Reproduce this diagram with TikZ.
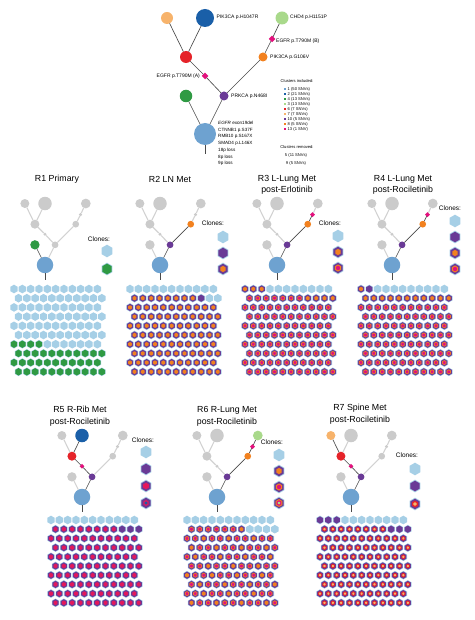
\documentclass[tikz,border=0pt]{standalone}
\usepackage{fontspec}
\setmainfont{Liberation Sans}
\definecolor{lb}{HTML}{A6CFE6}
\definecolor{bone}{HTML}{6EA2D0}
\definecolor{dbl}{HTML}{1A5FA8}
\definecolor{gfour}{HTML}{2F9A43}
\definecolor{gthree}{HTML}{A9D98B}
\definecolor{rsix}{HTML}{E52329}
\definecolor{lor}{HTML}{F7B36B}
\definecolor{pur}{HTML}{6A3A96}
\definecolor{ora}{HTML}{F2811F}
\definecolor{mag}{HTML}{E3117D}
\definecolor{gry}{HTML}{CBCBCB}
\definecolor{lgc}{HTML}{D2D2D2}
\definecolor{dkc}{HTML}{4A4A4A}
\tikzset{
 tn/.style={circle,inner sep=0pt,outer sep=0pt,draw=none},
 gn/.style={tn,fill=gry},
 sq/.style={tn,rectangle,rotate=45,fill=mag},
 c-o7/.style={tn,fill=lor}, c-db/.style={tn,fill=dbl}, c-g3/.style={tn,fill=gthree},
 c-pB/.style={sq}, c-o8/.style={tn,fill=ora}, c-red/.style={tn,fill=rsix},
 c-pA/.style={sq}, c-pu/.style={tn,fill=pur}, c-g4/.style={tn,fill=gfour}, c-b1/.style={tn,fill=bone},
 dk/.style={draw=dkc,line width=0.65pt},
 lg/.style={draw=lgc,line width=1.1pt},
 ttl/.style={font=\fontsize{8.8}{11}\selectfont,align=center,inner sep=0pt},
 ttlb/.style={font=\fontsize{8.8}{12}\selectfont,align=center,inner sep=0pt},
 lbl/.style={font=\fontsize{5}{6.7}\selectfont,inner sep=0pt},
 mut/.style={font=\fontsize{4.6}{6.7}\selectfont,inner sep=0pt,align=left},
 leg/.style={font=\fontsize{4.1}{5}\selectfont,inner sep=0pt},
 clo/.style={font=\fontsize{6.5}{7}\selectfont,inner sep=0pt},
}
% phylogenetic tree: prefix, x, y, position scale, size scale, highlight styles
\newcommand{\phyl}[6]{%
\begin{scope}[shift={(#2,#3)}]
\tikzset{n-o7/.style={gn},n-db/.style={gn},n-g3/.style={gn},n-pB/.style={gn},n-o8/.style={gn},
 n-red/.style={gn},n-pA/.style={gn},n-pu/.style={gn},n-g4/.style={gn},n-b1/.style={gn},
 e-o7/.style={lg},e-db/.style={lg},e-redpA/.style={lg},e-pApu/.style={lg},e-pub1/.style={lg},
 e-g4/.style={lg},e-g3/.style={lg},e-pBo8/.style={lg},e-o8pu/.style={lg},#6}
\def\ps{#4}\def\ss{#5}
\node[n-o7,minimum size={12*\ss}] (#1o7) at ({-38*\ps},{-116*\ps}) {};
\node[n-db,minimum size={18*\ss}] (#1db) at (0,{-116*\ps}) {};
\node[n-g3,minimum size={13*\ss}] (#1g3) at ({77*\ps},{-116*\ps}) {};
\node[n-pB,minimum size={4.6*\ss}] (#1pB) at ({67*\ps},{-95*\ps}) {};
\node[n-o8,minimum size={9*\ss}] (#1o8) at ({58*\ps},{-77*\ps}) {};
\node[n-red,minimum size={12*\ss}] (#1red) at ({-19*\ps},{-77*\ps}) {};
\node[n-pA,minimum size={4.6*\ss}] (#1pA) at (0,{-58*\ps}) {};
\node[n-pu,minimum size={9*\ss}] (#1pu) at ({19*\ps},{-38*\ps}) {};
\node[n-g4,minimum size={12.5*\ss}] (#1g4) at ({-19*\ps},{-38*\ps}) {};
\node[n-b1,minimum size={22*\ss}] (#1b1) at (0,0) {};
\coordinate (#1t) at (0,{20.5*\ss});
\draw[e-o7] (#1o7) -- (#1red);
\draw[e-db] (#1db) -- (#1red);
\draw[e-redpA] (#1red) -- (#1pA);
\draw[e-pApu] (#1pA) -- (#1pu);
\draw[e-g3] (#1g3) -- (#1pB);
\draw[e-pBo8] (#1pB) -- (#1o8);
\draw[e-o8pu] (#1o8) -- (#1pu);
\draw[e-pub1] (#1pu) -- (#1b1);
\draw[e-g4] (#1g4) -- (#1b1);
\draw[dk] (#1b1) -- (#1t);
\end{scope}}
% hexagon: x, y, radius, colour
\newcommand{\hx}[4]{\fill[#4] (#1,#2) +(90:{#3}) -- +(150:{#3}) -- +(210:{#3}) -- +(270:{#3}) -- +(330:{#3}) -- +(30:{#3}) -- cycle;}
% cell: x, y, type, radius
\newcommand{\cell}[4]{%
\ifcase#3\relax
\or \hx{#1}{#2}{#4}{lb}%
\or \hx{#1}{#2}{#4}{lb}\hx{#1}{#2}{0.86*#4}{gfour}%
\or \hx{#1}{#2}{#4}{lb}\hx{#1}{#2}{0.84*#4}{pur}%
\or \hx{#1}{#2}{#4}{lb}\hx{#1}{#2}{0.84*#4}{pur}\hx{#1}{#2}{0.5*#4}{ora}%
\or \hx{#1}{#2}{#4}{lb}\hx{#1}{#2}{0.84*#4}{pur}\hx{#1}{#2}{0.56*#4}{ora}\hx{#1}{#2}{0.36*#4}{mag}%
\or \hx{#1}{#2}{#4}{lb}\hx{#1}{#2}{0.84*#4}{pur}\hx{#1}{#2}{0.52*#4}{mag!60!rsix}%
\or \hx{#1}{#2}{#4}{lb}\hx{#1}{#2}{0.84*#4}{pur}\hx{#1}{#2}{0.55*#4}{rsix}\hx{#1}{#2}{0.28*#4}{lor}%
\or \hx{#1}{#2}{#4}{lb}\hx{#1}{#2}{0.84*#4}{pur}\hx{#1}{#2}{0.48*#4}{mag!60!rsix}\hx{#1}{#2}{0.24*#4}{dbl}%
\or \hx{#1}{#2}{#4}{lb}\hx{#1}{#2}{0.84*#4}{pur}\hx{#1}{#2}{0.62*#4}{ora}\hx{#1}{#2}{0.44*#4}{mag}\hx{#1}{#2}{0.22*#4}{gthree}%
\fi}
% grid: x0, y0, rule in \rr,\cc
\newcommand{\grid}[3]{%
\foreach \rr in {0,...,9}{\foreach \cc in {0,...,10}{%
 \pgfmathtruncatemacro\ty{#3}%
 \pgfmathsetmacro\xx{#1+\cc*8.33+mod(\rr,2)*4.5}%
 \pgfmathsetmacro\yy{#2+\rr*9.2}%
 \cell{\xx}{\yy}{\ty}{4.3}}}}
\newcommand{\allcol}{n-o7/.style={c-o7},n-db/.style={c-db},n-g3/.style={c-g3},n-pB/.style={c-pB},
 n-o8/.style={c-o8},n-red/.style={c-red},n-pA/.style={c-pA},n-pu/.style={c-pu},n-g4/.style={c-g4},
 n-b1/.style={c-b1},e-o7/.style={dk},e-db/.style={dk},e-redpA/.style={dk},e-pApu/.style={dk},
 e-pub1/.style={dk},e-g4/.style={dk},e-g3/.style={dk},e-pBo8/.style={dk},e-o8pu/.style={dk}}
\begin{document}
\begin{tikzpicture}[x=1pt,y=-1pt]
\useasboundingbox (0,0) rectangle (474,620);
% ---------- main tree ----------
\expandafter\phyl\expandafter{\expandafter m\expandafter}\expandafter{\expandafter2\expandafter0\expandafter5\expandafter}\expandafter{\expandafter1\expandafter3\expandafter4\expandafter}\expandafter{\expandafter1\expandafter}\expandafter{\expandafter1\expandafter}\expandafter{\allcol}
\node[lbl,anchor=west] (l1) at (216.5,17) {PIK3CA p.H1047R};
\node[lbl,anchor=west] (l2) at (290,17) {CHD4 p.H1151P};
\node[lbl,anchor=west] (l3) at (276,41) {EGFR p.T790M (B)};
\node[lbl,anchor=west] (l4) at (270,57) {PIK3CA p.G106V};
\node[lbl,anchor=east] (l5) at (200,76) {EGFR p.T790M (A)};
\node[lbl,anchor=west] (l6) at (231,96) {PRKCA p.N468I};
\node[mut,anchor=north west] (muts) at (218,121) {\textit{EGFR} exon19del\\CTNNB1 p.S37F\\RMB10 p.S167X\\SMAD4 p.L146X\\18p loss\\8p loss\\9p loss};
% ---------- legend ----------
\node[leg] (lgt) at (297,81) {Clusters included:};
\foreach \cl/\tx [count=\i] in {bone/1 (50 SNVs),dbl/2 (21 SNVs),gfour/4 (13 SNVs),gthree/3 (13 SNVs),rsix/6 (7 SNVs),lor/7 (7 SNVs),pur/10 (5 SNVs),ora/8 (5 SNVs),mag/13 (1 SNV)}{
 \node[fill=\cl,inner sep=0pt,minimum size=2pt] (lgs\i) at (284.5,{84+5*\i}) {};
 \node[leg,anchor=west] (lgx\i) at (287.5,{84+5*\i}) {\tx};
}
\node[leg] (lgr) at (297,147) {Clusters removed:};
\node[leg] (lgr1) at (296,155) {5 (11 SNVs)};
\node[leg] (lgr2) at (296,163) {9 (5 SNVs)};
% ---------- titles ----------
\node[ttl] (t1) at (57,179) {R1 Primary};
\node[ttl] (t2) at (170,179) {R2 LN Met};
\node[ttl] (t3) at (287,184.5) {R3 L-Lung Met\\post-Erlotinib};
\node[ttl] (t4) at (403,184.5) {R4 L-Lung Met\\post-Rociletinib};
\node[ttlb] (t5) at (80,416.5) {R5 R-Rib Met\\post-Rociletinib};
\node[ttlb] (t6) at (227,416) {R6 R-Lung Met\\post-Rociletinib};
\node[ttlb] (t7) at (360,414) {R7 Spine Met\\post-Rociletinib};
% ---------- mini trees ----------
\phyl{a}{45}{265}{0.53}{0.75}{n-g4/.style={c-g4},n-b1/.style={c-b1},e-g4/.style={dk}}
\phyl{b}{160}{265}{0.53}{0.75}{n-b1/.style={c-b1},n-pu/.style={c-pu},n-o8/.style={c-o8},e-pub1/.style={dk},e-o8pu/.style={dk}}
\phyl{c}{277}{265}{0.53}{0.75}{n-b1/.style={c-b1},n-pu/.style={c-pu},n-o8/.style={c-o8},n-pB/.style={c-pB},e-pub1/.style={dk},e-o8pu/.style={dk},e-pBo8/.style={dk}}
\phyl{d}{392}{265}{0.53}{0.75}{n-b1/.style={c-b1},n-pu/.style={c-pu},n-o8/.style={c-o8},n-pB/.style={c-pB},e-pub1/.style={dk},e-o8pu/.style={dk},e-pBo8/.style={dk}}
\phyl{e}{82}{497}{0.53}{0.75}{n-b1/.style={c-b1},n-pu/.style={c-pu},n-pA/.style={c-pA},n-red/.style={c-red},n-db/.style={c-db},e-pub1/.style={dk},e-pApu/.style={dk},e-redpA/.style={dk},e-db/.style={dk}}
\phyl{f}{217}{497}{0.53}{0.75}{n-b1/.style={c-b1},n-pu/.style={c-pu},n-o8/.style={c-o8},n-pB/.style={c-pB},n-g3/.style={c-g3},e-pub1/.style={dk},e-o8pu/.style={dk},e-pBo8/.style={dk},e-g3/.style={dk}}
\phyl{g}{351}{497}{0.53}{0.75}{n-b1/.style={c-b1},n-pu/.style={c-pu},n-pA/.style={c-pA},n-red/.style={c-red},n-o7/.style={c-o7},e-pub1/.style={dk},e-pApu/.style={dk},e-redpA/.style={dk},e-o7/.style={dk}}
% ---------- clones ----------
\node[clo] (cl1) at (99,239) {Clones:};
\cell{107}{251}{1}{6.3}\cell{107}{269}{2}{6.3}
\node[clo] (cl2) at (213,223) {Clones:};
\cell{223}{237}{1}{6.3}\cell{223}{253}{3}{6.3}\cell{223}{269}{4}{6.3}
\node[clo] (cl3) at (330,223) {Clones:};
\cell{338}{236}{1}{6.3}\cell{338}{252}{4}{6.3}\cell{338}{268}{5}{6.3}
\node[clo] (cl4) at (450,208) {Clones:};
\cell{455}{221}{1}{6.3}\cell{455}{237}{3}{6.3}\cell{455}{253}{4}{6.3}\cell{455}{269}{5}{6.3}
\node[clo] (cl5) at (143,440) {Clones:};
\cell{146}{452}{1}{6.3}\cell{146}{469}{3}{6.3}\cell{146}{486}{6}{6.3}\cell{146}{503}{8}{6.3}
\node[clo] (cl6) at (272,442) {Clones:};
\cell{279}{455}{1}{6.3}\cell{279}{471}{4}{6.3}\cell{279}{487}{5}{6.3}\cell{279}{503}{9}{6.3}
\node[clo] (cl7) at (407,455) {Clones:};
\cell{415}{469}{1}{6.3}\cell{415}{486}{3}{6.3}\cell{415}{504}{7}{6.3}
% ---------- grids ----------
\grid{14}{289}{(\rr<6) ? 1 : ((\rr==6) ? ((\cc<4) ? 2 : 1) : 2)}
\grid{130}{289}{(\rr==0) ? 1 : ((\rr==1) ? ((\cc<8) ? 4 : ((\cc==8) ? 3 : 1)) : 4)}
\grid{245}{289}{(\rr==0) ? ((\cc<3) ? 4 : 1) : ((\rr==1) ? ((\cc<7) ? 5 : 4) : 5)}
\grid{361}{289}{(\rr==0) ? ((\cc==0) ? 4 : ((\cc==1) ? 3 : 1)) : ((\rr==1) ? 4 : 5)}
\grid{51}{520}{(\rr==0) ? 1 : ((\rr==1) ? ((\cc<8) ? 6 : 3) : 6)}
\grid{187}{520}{(\rr==0) ? 1 : ((\rr==1) ? ((\cc<6) ? 5 : ((\cc==6) ? 4 : 1)) : ((mod(\rr*2+\cc,3)==0) ? 4 : 5))}
\grid{320}{520}{(\rr==0) ? ((\cc<3) ? 3 : 1) : ((\rr==1) ? ((\cc<8) ? 7 : 3) : 7)}
\end{tikzpicture}
\end{document}
